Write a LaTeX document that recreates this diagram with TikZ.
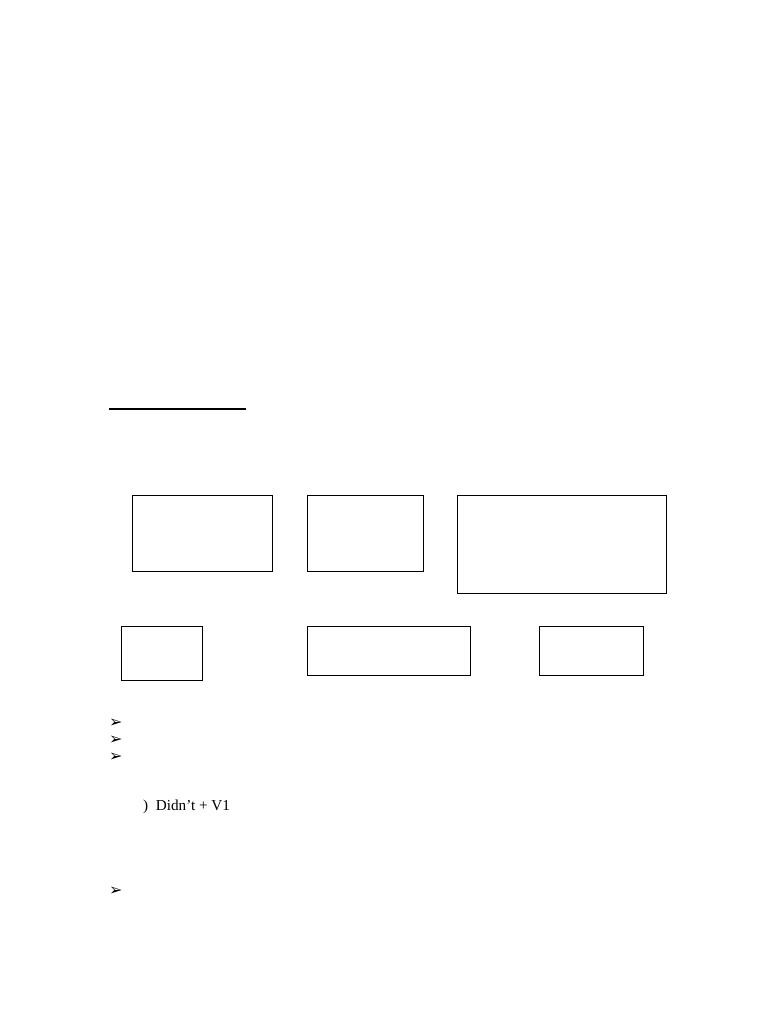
\documentclass[tikz,border=0pt]{standalone}
\usepackage{fontspec}
\setmainfont{Liberation Serif}
\newfontfamily\symfont{DejaVu Sans}
\begin{document}
\begin{tikzpicture}[x=1pt,y=-1pt,
  box/.style={draw=black,line width=1pt,fill=none},
  bul/.style={anchor=west,inner sep=0pt,font=\symfont\fontsize{16}{18}\selectfont},
  txt/.style={anchor=base west,inner sep=0pt,font=\fontsize{15.2}{18}\selectfont}]
\useasboundingbox[fill=white] (0,0) rectangle (768,1024);
\coordinate (ulA) at (109,409);
\coordinate (ulB) at (246,409);
\draw[line width=1.8pt] (ulA) -- (ulB);
\draw[box] (132,495) rectangle (272,571) node[midway] (b1) {};
\draw[box] (307,495) rectangle (423,571) node[midway] (b2) {};
\draw[box] (457,495) rectangle (666,593) node[midway] (b3) {};
\draw[box] (121,626) rectangle (202,680) node[midway] (b4) {};
\draw[box] (307,626) rectangle (470,675) node[midway] (b5) {};
\draw[box] (539,626) rectangle (643,675) node[midway] (b6) {};
\node[bul] (p1) at (109,723) {➢};
\node[bul] (p2) at (109,740) {➢};
\node[bul] (p3) at (109,757) {➢};
\node[bul] (p4) at (109,891) {➢};
\node[txt] (t1) at (143,810) {)\ \ Didn’t + V1};
\end{tikzpicture}
\end{document}
